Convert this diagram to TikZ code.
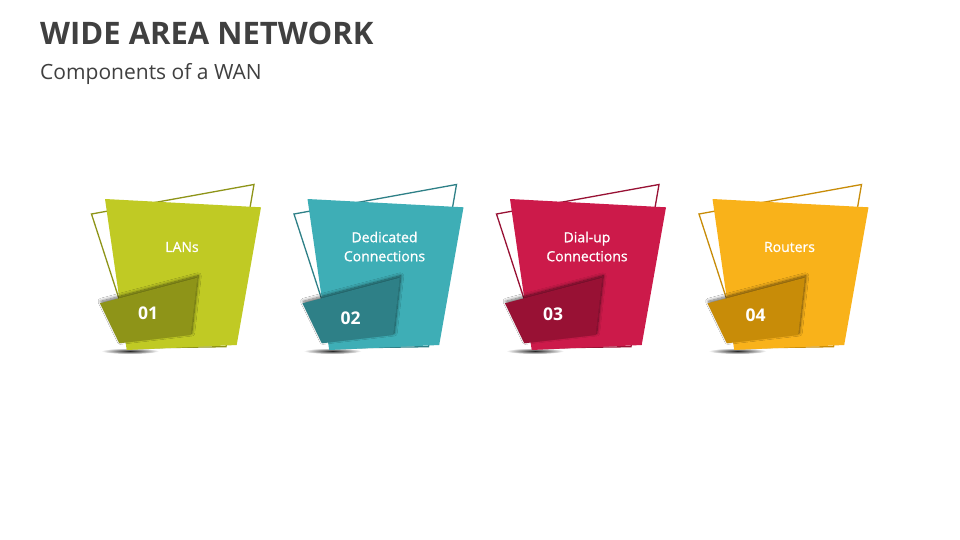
\documentclass[tikz,border=0pt]{standalone}
\usepackage{fontspec}
\setmainfont{Open Sans}
\newfontfamily\cardfont[FakeBold=0.8]{Open Sans}
\usetikzlibrary{shadows.blur}
\definecolor{limeF}{RGB}{192,202,36}
\definecolor{limeD}{RGB}{142,148,24}
\definecolor{tealF}{RGB}{62,174,182}
\definecolor{tealD}{RGB}{46,128,135}
\definecolor{redF}{RGB}{204,26,74}
\definecolor{redD}{RGB}{152,17,52}
\definecolor{goldF}{RGB}{249,178,26}
\definecolor{goldD}{RGB}{200,140,8}
\definecolor{titlegray}{RGB}{64,64,64}
\tikzset{
  outlinebox/.style={draw=#1, line width=1.3pt, line join=miter},
  fillbox/.style={fill=#1},
  tabbox/.style={fill=#1, blur shadow={shadow xshift=1pt, shadow yshift=2pt, shadow blur steps=10, shadow opacity=60, shadow blur radius=3pt}},
  cardtext/.style={text=white, font=\cardfont\fontsize{14}{19}\selectfont, align=center, inner sep=0pt},
  numtext/.style={text=white, font=\fontsize{17.5}{20}\selectfont\bfseries, inner sep=0pt},
  groundshadow/.style={inner color=black!85, outer color=white},
}
\newcommand\wancard[7]{%
  \begin{scope}[xshift=#1]
    \shade[groundshadow] (130,351) ellipse [x radius=29pt, y radius=3pt];
    \draw[outlinebox=#3] (91.5,214) -- (254,184.5) -- (226,346.7) -- (135,348) -- cycle;
    \fill[fillbox=#2] (105,199) -- (261,207.3) -- (236.7,345) -- (126.7,350) -- cycle;
    \fill[tabbox=#3] (100,303.3) -- (197.3,277.7) -- (190.7,335) -- (119.3,343.3) -- cycle;
    \node[cardtext] (txt#4) at (182,#6) {#5};
    \node[numtext] (num#4) at (148,#7) {0#4};
  \end{scope}}
\begin{document}
\begin{tikzpicture}[x=1pt, y=-1pt]
  \useasboundingbox (0,0) rectangle (960,540);
  \fill[white] (0,0) rectangle (960,540);
  \node[anchor=base west, inner sep=0pt, text=titlegray, font=\fontsize{31}{33}\selectfont\bfseries] (title) at (40,45) {WIDE AREA NETWORK};
  \node[anchor=base west, inner sep=0pt, text=titlegray, font=\fontsize{21}{23}\selectfont] (subtitle) at (40,80) {Components of a WAN};
  \wancard{0pt}{limeF}{limeD}{1}{LANs}{247}{313.3}
  \wancard{202.5pt}{tealF}{tealD}{2}{Dedicated\\Connections}{246.5}{318.5}
  \wancard{405pt}{redF}{redD}{3}{Dial-up\\Connections}{246.5}{314.3}
  \wancard{607.5pt}{goldF}{goldD}{4}{Routers}{247}{315}
\end{tikzpicture}
\end{document}
